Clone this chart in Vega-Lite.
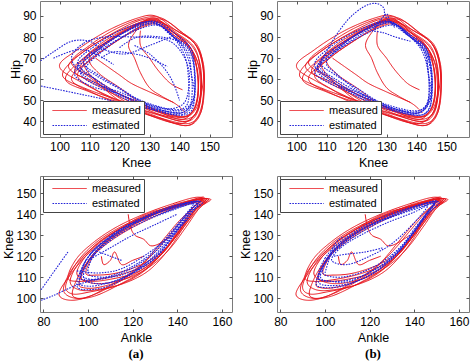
{
"$schema": "https://vega.github.io/schema/vega-lite/v6.json",
"padding": {"left": 2, "top": 0, "right": 2, "bottom": 1},
"datasets": {
"hkM": [
{"s":"m","c":1,"x":103,"y":66},{"s":"m","c":1,"x":109,"y":74},{"s":"m","c":1,"x":118,"y":82},{"s":"m","c":1,"x":127,"y":88},{"s":"m","c":1,"x":133,"y":88},{"s":"m","c":1,"x":139,"y":82},{"s":"m","c":1,"x":145,"y":75},{"s":"m","c":1,"x":147,"y":64},{"s":"m","c":1,"x":147,"y":52},{"s":"m","c":1,"x":145,"y":43},{"s":"m","c":1,"x":141,"y":40},{"s":"m","c":1,"x":132,"y":44},{"s":"m","c":1,"x":121,"y":51},{"s":"m","c":1,"x":110,"y":59},
{"s":"m","c":2,"x":100,"y":66},{"s":"m","c":2,"x":106,"y":74},{"s":"m","c":2,"x":116,"y":83},{"s":"m","c":2,"x":126,"y":89},{"s":"m","c":2,"x":132,"y":90},{"s":"m","c":2,"x":138,"y":84},{"s":"m","c":2,"x":145,"y":77},{"s":"m","c":2,"x":148,"y":65},{"s":"m","c":2,"x":148,"y":52},{"s":"m","c":2,"x":146,"y":42},{"s":"m","c":2,"x":142,"y":38},{"s":"m","c":2,"x":133,"y":42},{"s":"m","c":2,"x":121,"y":49},{"s":"m","c":2,"x":108,"y":58},
{"s":"m","c":3,"x":105,"y":64},{"s":"m","c":3,"x":111,"y":73},{"s":"m","c":3,"x":120,"y":81},{"s":"m","c":3,"x":128,"y":87},{"s":"m","c":3,"x":133,"y":87},{"s":"m","c":3,"x":138,"y":81},{"s":"m","c":3,"x":143,"y":75},{"s":"m","c":3,"x":146,"y":64},{"s":"m","c":3,"x":146,"y":52},{"s":"m","c":3,"x":144,"y":44},{"s":"m","c":3,"x":140,"y":41},{"s":"m","c":3,"x":131,"y":46},{"s":"m","c":3,"x":120,"y":53},{"s":"m","c":3,"x":111,"y":59},
{"s":"m","c":4,"x":101,"y":62},{"s":"m","c":4,"x":107,"y":72},{"s":"m","c":4,"x":117,"y":81},{"s":"m","c":4,"x":127,"y":87},{"s":"m","c":4,"x":132,"y":89},{"s":"m","c":4,"x":137,"y":83},{"s":"m","c":4,"x":144,"y":76},{"s":"m","c":4,"x":147,"y":66},{"s":"m","c":4,"x":147,"y":53},{"s":"m","c":4,"x":145,"y":45},{"s":"m","c":4,"x":141,"y":42},{"s":"m","c":4,"x":132,"y":45},{"s":"m","c":4,"x":120,"y":50},{"s":"m","c":4,"x":108,"y":56},
{"s":"m","c":5,"x":104,"y":68},{"s":"m","c":5,"x":110,"y":76},{"s":"m","c":5,"x":119,"y":84},{"s":"m","c":5,"x":128,"y":89},{"s":"m","c":5,"x":134,"y":89},{"s":"m","c":5,"x":140,"y":83},{"s":"m","c":5,"x":146,"y":76},{"s":"m","c":5,"x":148,"y":64},{"s":"m","c":5,"x":147,"y":51},{"s":"m","c":5,"x":145,"y":43},{"s":"m","c":5,"x":140,"y":39},{"s":"m","c":5,"x":130,"y":43},{"s":"m","c":5,"x":119,"y":52},{"s":"m","c":5,"x":110,"y":61},
{"s":"m","c":6,"x":107,"y":66},{"s":"m","c":6,"x":113,"y":74},{"s":"m","c":6,"x":121,"y":82},{"s":"m","c":6,"x":129,"y":87},{"s":"m","c":6,"x":134,"y":87},{"s":"m","c":6,"x":139,"y":81},{"s":"m","c":6,"x":144,"y":74},{"s":"m","c":6,"x":146,"y":63},{"s":"m","c":6,"x":146,"y":51},{"s":"m","c":6,"x":144,"y":44},{"s":"m","c":6,"x":139,"y":42},{"s":"m","c":6,"x":130,"y":46},{"s":"m","c":6,"x":120,"y":53},{"s":"m","c":6,"x":112,"y":60},
{"s":"m","c":7,"x":110,"y":70},{"s":"m","c":7,"x":116,"y":78},{"s":"m","c":7,"x":123,"y":84},{"s":"m","c":7,"x":130,"y":88},{"s":"m","c":7,"x":134,"y":87},{"s":"m","c":7,"x":139,"y":81},{"s":"m","c":7,"x":144,"y":74},{"s":"m","c":7,"x":146,"y":62},{"s":"m","c":7,"x":146,"y":50},{"s":"m","c":7,"x":143,"y":43},{"s":"m","c":7,"x":138,"y":43},{"s":"m","c":7,"x":128,"y":48},{"s":"m","c":7,"x":120,"y":56},{"s":"m","c":7,"x":113,"y":63},
{"s":"m","c":8,"x":102,"y":60},{"s":"m","c":8,"x":108,"y":70},{"s":"m","c":8,"x":117,"y":79},{"s":"m","c":8,"x":126,"y":86},{"s":"m","c":8,"x":131,"y":88},{"s":"m","c":8,"x":136,"y":84},{"s":"m","c":8,"x":142,"y":78},{"s":"m","c":8,"x":146,"y":68},{"s":"m","c":8,"x":147,"y":55},{"s":"m","c":8,"x":146,"y":45},{"s":"m","c":8,"x":142,"y":41},{"s":"m","c":8,"x":134,"y":43},{"s":"m","c":8,"x":122,"y":48},{"s":"m","c":8,"x":110,"y":54},
{"s":"m","c":9,"x":106,"y":62},{"s":"m","c":9,"x":112,"y":71},{"s":"m","c":9,"x":120,"y":79},{"s":"m","c":9,"x":128,"y":85},{"s":"m","c":9,"x":133,"y":86},{"s":"m","c":9,"x":138,"y":81},{"s":"m","c":9,"x":144,"y":74},{"s":"m","c":9,"x":147,"y":63},{"s":"m","c":9,"x":147,"y":50},{"s":"m","c":9,"x":145,"y":42},{"s":"m","c":9,"x":141,"y":40},{"s":"m","c":9,"x":133,"y":43},{"s":"m","c":9,"x":122,"y":48},{"s":"m","c":9,"x":112,"y":55},
{"s":"m","c":10,"x":108,"y":68},{"s":"m","c":10,"x":113,"y":76},{"s":"m","c":10,"x":121,"y":83},{"s":"m","c":10,"x":129,"y":88},{"s":"m","c":10,"x":135,"y":88},{"s":"m","c":10,"x":141,"y":82},{"s":"m","c":10,"x":146,"y":75},{"s":"m","c":10,"x":148,"y":63},{"s":"m","c":10,"x":148,"y":50},{"s":"m","c":10,"x":146,"y":41},{"s":"m","c":10,"x":142,"y":38},{"s":"m","c":10,"x":134,"y":41},{"s":"m","c":10,"x":123,"y":47},{"s":"m","c":10,"x":113,"y":58},
{"s":"m","c":11,"x":104,"y":60},{"s":"m","c":11,"x":110,"y":69},{"s":"m","c":11,"x":119,"y":78},{"s":"m","c":11,"x":127,"y":85},{"s":"m","c":11,"x":133,"y":87},{"s":"m","c":11,"x":139,"y":83},{"s":"m","c":11,"x":145,"y":77},{"s":"m","c":11,"x":148,"y":67},{"s":"m","c":11,"x":148,"y":54},{"s":"m","c":11,"x":147,"y":44},{"s":"m","c":11,"x":143,"y":39},{"s":"m","c":11,"x":135,"y":41},{"s":"m","c":11,"x":124,"y":46},{"s":"m","c":11,"x":112,"y":53}
],
"hkMo": [
{"s":"m","c":1,"x":129,"y":88},{"s":"m","c":1,"x":125,"y":82},{"s":"m","c":1,"x":123,"y":76},{"s":"m","c":1,"x":125,"y":70},{"s":"m","c":1,"x":127,"y":63},{"s":"m","c":1,"x":130,"y":56},{"s":"m","c":1,"x":134,"y":52},{"s":"m","c":1,"x":139,"y":48},{"s":"m","c":1,"x":142,"y":44},
{"s":"m","c":2,"x":112,"y":70},{"s":"m","c":2,"x":116,"y":66},{"s":"m","c":2,"x":120,"y":62},{"s":"m","c":2,"x":124,"y":58},{"s":"m","c":2,"x":130,"y":54},{"s":"m","c":2,"x":138,"y":49},
{"s":"m","c":3,"x":127,"y":83},{"s":"m","c":3,"x":127,"y":76},{"s":"m","c":3,"x":130,"y":70},{"s":"m","c":3,"x":133,"y":64},{"s":"m","c":3,"x":137,"y":58},{"s":"m","c":3,"x":141,"y":55}
],
"hkEa": [
{"s":"e","c":1,"x":106,"y":66},{"s":"e","c":1,"x":112,"y":74},{"s":"e","c":1,"x":120,"y":81},{"s":"e","c":1,"x":128,"y":86},{"s":"e","c":1,"x":133,"y":86},{"s":"e","c":1,"x":138,"y":80},{"s":"e","c":1,"x":143,"y":74},{"s":"e","c":1,"x":145,"y":64},{"s":"e","c":1,"x":145,"y":52},{"s":"e","c":1,"x":144,"y":45},{"s":"e","c":1,"x":140,"y":43},{"s":"e","c":1,"x":131,"y":46},{"s":"e","c":1,"x":121,"y":52},{"s":"e","c":1,"x":112,"y":60},
{"s":"e","c":2,"x":105,"y":63},{"s":"e","c":2,"x":111,"y":72},{"s":"e","c":2,"x":119,"y":80},{"s":"e","c":2,"x":127,"y":86},{"s":"e","c":2,"x":132,"y":87},{"s":"e","c":2,"x":137,"y":81},{"s":"e","c":2,"x":143,"y":75},{"s":"e","c":2,"x":145,"y":65},{"s":"e","c":2,"x":145,"y":53},{"s":"e","c":2,"x":143,"y":46},{"s":"e","c":2,"x":139,"y":44},{"s":"e","c":2,"x":130,"y":47},{"s":"e","c":2,"x":120,"y":53},{"s":"e","c":2,"x":110,"y":57},
{"s":"e","c":3,"x":108,"y":68},{"s":"e","c":3,"x":114,"y":75},{"s":"e","c":3,"x":121,"y":82},{"s":"e","c":3,"x":128,"y":87},{"s":"e","c":3,"x":133,"y":86},{"s":"e","c":3,"x":138,"y":80},{"s":"e","c":3,"x":142,"y":73},{"s":"e","c":3,"x":144,"y":62},{"s":"e","c":3,"x":144,"y":50},{"s":"e","c":3,"x":142,"y":45},{"s":"e","c":3,"x":138,"y":44},{"s":"e","c":3,"x":129,"y":48},{"s":"e","c":3,"x":121,"y":55},{"s":"e","c":3,"x":113,"y":62},
{"s":"e","c":4,"x":107,"y":64},{"s":"e","c":4,"x":113,"y":73},{"s":"e","c":4,"x":121,"y":80},{"s":"e","c":4,"x":129,"y":85},{"s":"e","c":4,"x":134,"y":85},{"s":"e","c":4,"x":139,"y":79},{"s":"e","c":4,"x":143,"y":72},{"s":"e","c":4,"x":144,"y":62},{"s":"e","c":4,"x":145,"y":53},{"s":"e","c":4,"x":143,"y":47},{"s":"e","c":4,"x":139,"y":45},{"s":"e","c":4,"x":130,"y":48},{"s":"e","c":4,"x":120,"y":54},{"s":"e","c":4,"x":111,"y":58},
{"s":"e","c":5,"x":104,"y":70},{"s":"e","c":5,"x":108,"y":77},{"s":"e","c":5,"x":115,"y":80},{"s":"e","c":5,"x":125,"y":80},{"s":"e","c":5,"x":135,"y":79},{"s":"e","c":5,"x":140,"y":74},{"s":"e","c":5,"x":143,"y":65},{"s":"e","c":5,"x":143,"y":55},{"s":"e","c":5,"x":141,"y":48},{"s":"e","c":5,"x":135,"y":46},{"s":"e","c":5,"x":125,"y":50},{"s":"e","c":5,"x":115,"y":56},{"s":"e","c":5,"x":108,"y":62},
{"s":"e","c":6,"x":109,"y":66},{"s":"e","c":6,"x":115,"y":74},{"s":"e","c":6,"x":122,"y":81},{"s":"e","c":6,"x":129,"y":86},{"s":"e","c":6,"x":134,"y":85},{"s":"e","c":6,"x":139,"y":78},{"s":"e","c":6,"x":142,"y":70},{"s":"e","c":6,"x":143,"y":60},{"s":"e","c":6,"x":143,"y":50},{"s":"e","c":6,"x":141,"y":46},{"s":"e","c":6,"x":136,"y":46},{"s":"e","c":6,"x":127,"y":50},{"s":"e","c":6,"x":118,"y":57},{"s":"e","c":6,"x":112,"y":62},
{"s":"e","c":7,"x":106,"y":68},{"s":"e","c":7,"x":112,"y":76},{"s":"e","c":7,"x":120,"y":83},{"s":"e","c":7,"x":128,"y":87},{"s":"e","c":7,"x":133,"y":87},{"s":"e","c":7,"x":139,"y":81},{"s":"e","c":7,"x":144,"y":74},{"s":"e","c":7,"x":145,"y":62},{"s":"e","c":7,"x":145,"y":51},{"s":"e","c":7,"x":143,"y":45},{"s":"e","c":7,"x":139,"y":43},{"s":"e","c":7,"x":130,"y":46},{"s":"e","c":7,"x":120,"y":52},{"s":"e","c":7,"x":111,"y":61}
],
"hkEao": [
{"s":"e","c":1,"x":93,"y":57},{"s":"e","c":1,"x":100,"y":55},{"s":"e","c":1,"x":110,"y":52},{"s":"e","c":1,"x":120,"y":49},{"s":"e","c":1,"x":130,"y":46},{"s":"e","c":1,"x":140,"y":44},
{"s":"e","c":2,"x":93,"y":68},{"s":"e","c":2,"x":98,"y":73},{"s":"e","c":2,"x":104,"y":78},{"s":"e","c":2,"x":110,"y":78},{"s":"e","c":2,"x":115,"y":74},{"s":"e","c":2,"x":122,"y":72},{"s":"e","c":2,"x":130,"y":76},{"s":"e","c":2,"x":137,"y":80},
{"s":"e","c":3,"x":98,"y":70},{"s":"e","c":3,"x":106,"y":74},{"s":"e","c":3,"x":112,"y":72},{"s":"e","c":3,"x":118,"y":67},
{"s":"e","c":4,"x":120,"y":75},{"s":"e","c":4,"x":126,"y":80},{"s":"e","c":4,"x":134,"y":80},{"s":"e","c":4,"x":140,"y":78},
{"s":"e","c":5,"x":125,"y":76},{"s":"e","c":5,"x":130,"y":72},{"s":"e","c":5,"x":135,"y":65},{"s":"e","c":5,"x":138,"y":58},{"s":"e","c":5,"x":140,"y":50},
{"s":"e","c":6,"x":114,"y":70},{"s":"e","c":6,"x":118,"y":73},{"s":"e","c":6,"x":125,"y":72},{"s":"e","c":6,"x":130,"y":70},{"s":"e","c":6,"x":136,"y":66}
],
"hkEb": [
{"s":"e","c":1,"x":107,"y":66},{"s":"e","c":1,"x":112,"y":74},{"s":"e","c":1,"x":120,"y":81},{"s":"e","c":1,"x":128,"y":86},{"s":"e","c":1,"x":133,"y":86},{"s":"e","c":1,"x":138,"y":80},{"s":"e","c":1,"x":143,"y":74},{"s":"e","c":1,"x":145,"y":64},{"s":"e","c":1,"x":145,"y":52},{"s":"e","c":1,"x":144,"y":45},{"s":"e","c":1,"x":140,"y":43},{"s":"e","c":1,"x":131,"y":46},{"s":"e","c":1,"x":121,"y":52},{"s":"e","c":1,"x":112,"y":60},
{"s":"e","c":2,"x":106,"y":64},{"s":"e","c":2,"x":112,"y":72},{"s":"e","c":2,"x":120,"y":80},{"s":"e","c":2,"x":128,"y":86},{"s":"e","c":2,"x":132,"y":87},{"s":"e","c":2,"x":137,"y":81},{"s":"e","c":2,"x":143,"y":75},{"s":"e","c":2,"x":145,"y":65},{"s":"e","c":2,"x":145,"y":53},{"s":"e","c":2,"x":143,"y":46},{"s":"e","c":2,"x":139,"y":44},{"s":"e","c":2,"x":130,"y":47},{"s":"e","c":2,"x":120,"y":53},{"s":"e","c":2,"x":111,"y":58},
{"s":"e","c":3,"x":108,"y":68},{"s":"e","c":3,"x":114,"y":75},{"s":"e","c":3,"x":121,"y":82},{"s":"e","c":3,"x":128,"y":87},{"s":"e","c":3,"x":133,"y":86},{"s":"e","c":3,"x":138,"y":80},{"s":"e","c":3,"x":142,"y":73},{"s":"e","c":3,"x":144,"y":62},{"s":"e","c":3,"x":144,"y":50},{"s":"e","c":3,"x":142,"y":45},{"s":"e","c":3,"x":138,"y":44},{"s":"e","c":3,"x":129,"y":48},{"s":"e","c":3,"x":121,"y":55},{"s":"e","c":3,"x":113,"y":62},
{"s":"e","c":4,"x":107,"y":65},{"s":"e","c":4,"x":113,"y":73},{"s":"e","c":4,"x":121,"y":80},{"s":"e","c":4,"x":129,"y":85},{"s":"e","c":4,"x":134,"y":85},{"s":"e","c":4,"x":139,"y":79},{"s":"e","c":4,"x":143,"y":72},{"s":"e","c":4,"x":144,"y":62},{"s":"e","c":4,"x":145,"y":53},{"s":"e","c":4,"x":143,"y":47},{"s":"e","c":4,"x":139,"y":45},{"s":"e","c":4,"x":130,"y":48},{"s":"e","c":4,"x":120,"y":54},{"s":"e","c":4,"x":111,"y":59},
{"s":"e","c":5,"x":108,"y":66},{"s":"e","c":5,"x":112,"y":78},{"s":"e","c":5,"x":117,"y":88},{"s":"e","c":5,"x":122,"y":94},{"s":"e","c":5,"x":126,"y":96},{"s":"e","c":5,"x":129,"y":94},{"s":"e","c":5,"x":130,"y":89},{"s":"e","c":5,"x":136,"y":82},{"s":"e","c":5,"x":142,"y":75},{"s":"e","c":5,"x":144,"y":63},{"s":"e","c":5,"x":144,"y":51},{"s":"e","c":5,"x":142,"y":45},{"s":"e","c":5,"x":138,"y":44},{"s":"e","c":5,"x":128,"y":48},{"s":"e","c":5,"x":119,"y":55},{"s":"e","c":5,"x":112,"y":61},
{"s":"e","c":6,"x":110,"y":68},{"s":"e","c":6,"x":115,"y":76},{"s":"e","c":6,"x":122,"y":83},{"s":"e","c":6,"x":129,"y":87},{"s":"e","c":6,"x":133,"y":86},{"s":"e","c":6,"x":138,"y":80},{"s":"e","c":6,"x":143,"y":73},{"s":"e","c":6,"x":145,"y":60},{"s":"e","c":6,"x":144,"y":50},{"s":"e","c":6,"x":141,"y":45},{"s":"e","c":6,"x":136,"y":45},{"s":"e","c":6,"x":127,"y":49},{"s":"e","c":6,"x":119,"y":56},{"s":"e","c":6,"x":113,"y":63},
{"s":"e","c":7,"x":106,"y":67},{"s":"e","c":7,"x":111,"y":75},{"s":"e","c":7,"x":119,"y":82},{"s":"e","c":7,"x":127,"y":87},{"s":"e","c":7,"x":132,"y":87},{"s":"e","c":7,"x":138,"y":81},{"s":"e","c":7,"x":143,"y":75},{"s":"e","c":7,"x":145,"y":62},{"s":"e","c":7,"x":145,"y":50},{"s":"e","c":7,"x":143,"y":44},{"s":"e","c":7,"x":139,"y":43},{"s":"e","c":7,"x":130,"y":46},{"s":"e","c":7,"x":120,"y":52},{"s":"e","c":7,"x":111,"y":60}
],
"hkEbo": [
{"s":"e","c":1,"x":126,"y":84},{"s":"e","c":1,"x":128,"y":88},{"s":"e","c":1,"x":130,"y":91},{"s":"e","c":1,"x":131,"y":88},{"s":"e","c":1,"x":133,"y":84},
{"s":"e","c":2,"x":125,"y":83},{"s":"e","c":2,"x":129,"y":82},{"s":"e","c":2,"x":133,"y":80},{"s":"e","c":2,"x":138,"y":78}
],
"akM": [
{"s":"m","c":1,"x":89,"y":104},{"s":"m","c":1,"x":93,"y":114},{"s":"m","c":1,"x":101,"y":123},{"s":"m","c":1,"x":111,"y":131},{"s":"m","c":1,"x":124,"y":138},{"s":"m","c":1,"x":137,"y":143},{"s":"m","c":1,"x":148,"y":147},{"s":"m","c":1,"x":153,"y":147},{"s":"m","c":1,"x":148,"y":143},{"s":"m","c":1,"x":142,"y":135},{"s":"m","c":1,"x":135,"y":124},{"s":"m","c":1,"x":126,"y":114},{"s":"m","c":1,"x":115,"y":107},{"s":"m","c":1,"x":103,"y":101},{"s":"m","c":1,"x":94,"y":100},
{"s":"m","c":2,"x":92,"y":108},{"s":"m","c":2,"x":96,"y":117},{"s":"m","c":2,"x":104,"y":126},{"s":"m","c":2,"x":114,"y":133},{"s":"m","c":2,"x":126,"y":140},{"s":"m","c":2,"x":139,"y":144},{"s":"m","c":2,"x":149,"y":147},{"s":"m","c":2,"x":154,"y":147},{"s":"m","c":2,"x":149,"y":142},{"s":"m","c":2,"x":143,"y":134},{"s":"m","c":2,"x":136,"y":123},{"s":"m","c":2,"x":127,"y":113},{"s":"m","c":2,"x":116,"y":107},{"s":"m","c":2,"x":104,"y":104},{"s":"m","c":2,"x":96,"y":104},
{"s":"m","c":3,"x":87,"y":102},{"s":"m","c":3,"x":92,"y":111},{"s":"m","c":3,"x":100,"y":121},{"s":"m","c":3,"x":110,"y":129},{"s":"m","c":3,"x":122,"y":137},{"s":"m","c":3,"x":136,"y":143},{"s":"m","c":3,"x":147,"y":147},{"s":"m","c":3,"x":152,"y":148},{"s":"m","c":3,"x":148,"y":144},{"s":"m","c":3,"x":141,"y":137},{"s":"m","c":3,"x":133,"y":127},{"s":"m","c":3,"x":124,"y":116},{"s":"m","c":3,"x":113,"y":108},{"s":"m","c":3,"x":101,"y":101},{"s":"m","c":3,"x":92,"y":99},
{"s":"m","c":4,"x":95,"y":112},{"s":"m","c":4,"x":99,"y":120},{"s":"m","c":4,"x":106,"y":127},{"s":"m","c":4,"x":116,"y":134},{"s":"m","c":4,"x":128,"y":140},{"s":"m","c":4,"x":140,"y":145},{"s":"m","c":4,"x":149,"y":147},{"s":"m","c":4,"x":155,"y":147},{"s":"m","c":4,"x":150,"y":143},{"s":"m","c":4,"x":144,"y":134},{"s":"m","c":4,"x":137,"y":124},{"s":"m","c":4,"x":129,"y":116},{"s":"m","c":4,"x":119,"y":110},{"s":"m","c":4,"x":107,"y":107},{"s":"m","c":4,"x":99,"y":108},
{"s":"m","c":5,"x":90,"y":106},{"s":"m","c":5,"x":95,"y":117},{"s":"m","c":5,"x":103,"y":126},{"s":"m","c":5,"x":113,"y":133},{"s":"m","c":5,"x":125,"y":139},{"s":"m","c":5,"x":138,"y":144},{"s":"m","c":5,"x":148,"y":146},{"s":"m","c":5,"x":152,"y":146},{"s":"m","c":5,"x":147,"y":141},{"s":"m","c":5,"x":140,"y":131},{"s":"m","c":5,"x":133,"y":121},{"s":"m","c":5,"x":124,"y":112},{"s":"m","c":5,"x":113,"y":106},{"s":"m","c":5,"x":101,"y":103},{"s":"m","c":5,"x":93,"y":102},
{"s":"m","c":6,"x":97,"y":110},{"s":"m","c":6,"x":101,"y":119},{"s":"m","c":6,"x":108,"y":127},{"s":"m","c":6,"x":118,"y":134},{"s":"m","c":6,"x":130,"y":140},{"s":"m","c":6,"x":141,"y":144},{"s":"m","c":6,"x":150,"y":146},{"s":"m","c":6,"x":153,"y":146},{"s":"m","c":6,"x":148,"y":142},{"s":"m","c":6,"x":143,"y":135},{"s":"m","c":6,"x":137,"y":126},{"s":"m","c":6,"x":130,"y":118},{"s":"m","c":6,"x":121,"y":112},{"s":"m","c":6,"x":110,"y":109},{"s":"m","c":6,"x":101,"y":108},
{"s":"m","c":7,"x":93,"y":103},{"s":"m","c":7,"x":97,"y":113},{"s":"m","c":7,"x":104,"y":122},{"s":"m","c":7,"x":114,"y":130},{"s":"m","c":7,"x":126,"y":137},{"s":"m","c":7,"x":139,"y":143},{"s":"m","c":7,"x":149,"y":146},{"s":"m","c":7,"x":151,"y":147},{"s":"m","c":7,"x":146,"y":142},{"s":"m","c":7,"x":138,"y":132},{"s":"m","c":7,"x":130,"y":122},{"s":"m","c":7,"x":121,"y":113},{"s":"m","c":7,"x":111,"y":106},{"s":"m","c":7,"x":101,"y":101},{"s":"m","c":7,"x":95,"y":100},
{"s":"m","c":8,"x":99,"y":112},{"s":"m","c":8,"x":103,"y":121},{"s":"m","c":8,"x":110,"y":128},{"s":"m","c":8,"x":120,"y":135},{"s":"m","c":8,"x":132,"y":141},{"s":"m","c":8,"x":143,"y":145},{"s":"m","c":8,"x":150,"y":147},{"s":"m","c":8,"x":154,"y":147},{"s":"m","c":8,"x":149,"y":143},{"s":"m","c":8,"x":145,"y":137},{"s":"m","c":8,"x":140,"y":130},{"s":"m","c":8,"x":133,"y":122},{"s":"m","c":8,"x":124,"y":116},{"s":"m","c":8,"x":113,"y":112},{"s":"m","c":8,"x":104,"y":111},
{"s":"m","c":9,"x":96,"y":107},{"s":"m","c":9,"x":99,"y":116},{"s":"m","c":9,"x":106,"y":125},{"s":"m","c":9,"x":116,"y":132},{"s":"m","c":9,"x":128,"y":139},{"s":"m","c":9,"x":140,"y":144},{"s":"m","c":9,"x":149,"y":147},{"s":"m","c":9,"x":153,"y":147},{"s":"m","c":9,"x":148,"y":142},{"s":"m","c":9,"x":141,"y":132},{"s":"m","c":9,"x":134,"y":122},{"s":"m","c":9,"x":125,"y":114},{"s":"m","c":9,"x":114,"y":108},{"s":"m","c":9,"x":104,"y":105},{"s":"m","c":9,"x":98,"y":105},
{"s":"m","c":10,"x":91,"y":110},{"s":"m","c":10,"x":95,"y":119},{"s":"m","c":10,"x":103,"y":127},{"s":"m","c":10,"x":113,"y":134},{"s":"m","c":10,"x":125,"y":140},{"s":"m","c":10,"x":138,"y":145},{"s":"m","c":10,"x":148,"y":148},{"s":"m","c":10,"x":152,"y":147},{"s":"m","c":10,"x":147,"y":143},{"s":"m","c":10,"x":142,"y":134},{"s":"m","c":10,"x":136,"y":125},{"s":"m","c":10,"x":128,"y":117},{"s":"m","c":10,"x":117,"y":112},{"s":"m","c":10,"x":105,"y":109},{"s":"m","c":10,"x":95,"y":108}
],
"akMo": [
{"s":"m","c":1,"x":118,"y":140},{"s":"m","c":1,"x":119,"y":134},{"s":"m","c":1,"x":121,"y":130},{"s":"m","c":1,"x":125,"y":128},{"s":"m","c":1,"x":128,"y":125},{"s":"m","c":1,"x":132,"y":126},{"s":"m","c":1,"x":138,"y":130},
{"s":"m","c":2,"x":106,"y":120},{"s":"m","c":2,"x":107,"y":116},{"s":"m","c":2,"x":110,"y":118},{"s":"m","c":2,"x":112,"y":122},{"s":"m","c":2,"x":115,"y":116},{"s":"m","c":2,"x":120,"y":118},{"s":"m","c":2,"x":125,"y":120}
],
"akEa": [
{"s":"e","c":1,"x":96,"y":108},{"s":"e","c":1,"x":99,"y":118},{"s":"e","c":1,"x":106,"y":126},{"s":"e","c":1,"x":115,"y":133},{"s":"e","c":1,"x":127,"y":139},{"s":"e","c":1,"x":139,"y":144},{"s":"e","c":1,"x":148,"y":146},{"s":"e","c":1,"x":150,"y":146},{"s":"e","c":1,"x":146,"y":142},{"s":"e","c":1,"x":140,"y":134},{"s":"e","c":1,"x":133,"y":124},{"s":"e","c":1,"x":124,"y":115},{"s":"e","c":1,"x":114,"y":109},{"s":"e","c":1,"x":104,"y":106},{"s":"e","c":1,"x":98,"y":106},
{"s":"e","c":2,"x":98,"y":110},{"s":"e","c":2,"x":101,"y":119},{"s":"e","c":2,"x":108,"y":127},{"s":"e","c":2,"x":117,"y":134},{"s":"e","c":2,"x":129,"y":140},{"s":"e","c":2,"x":141,"y":144},{"s":"e","c":2,"x":149,"y":146},{"s":"e","c":2,"x":151,"y":145},{"s":"e","c":2,"x":146,"y":141},{"s":"e","c":2,"x":139,"y":131},{"s":"e","c":2,"x":132,"y":121},{"s":"e","c":2,"x":122,"y":113},{"s":"e","c":2,"x":112,"y":108},{"s":"e","c":2,"x":103,"y":107},
{"s":"e","c":3,"x":95,"y":106},{"s":"e","c":3,"x":98,"y":116},{"s":"e","c":3,"x":104,"y":124},{"s":"e","c":3,"x":113,"y":131},{"s":"e","c":3,"x":125,"y":138},{"s":"e","c":3,"x":138,"y":143},{"s":"e","c":3,"x":147,"y":146},{"s":"e","c":3,"x":150,"y":145},{"s":"e","c":3,"x":145,"y":140},{"s":"e","c":3,"x":138,"y":130},{"s":"e","c":3,"x":130,"y":119},{"s":"e","c":3,"x":120,"y":112},{"s":"e","c":3,"x":110,"y":106},{"s":"e","c":3,"x":100,"y":104},
{"s":"e","c":4,"x":100,"y":112},{"s":"e","c":4,"x":103,"y":121},{"s":"e","c":4,"x":110,"y":128},{"s":"e","c":4,"x":120,"y":135},{"s":"e","c":4,"x":132,"y":140},{"s":"e","c":4,"x":143,"y":144},{"s":"e","c":4,"x":149,"y":145},{"s":"e","c":4,"x":146,"y":140},{"s":"e","c":4,"x":140,"y":132},{"s":"e","c":4,"x":133,"y":123},{"s":"e","c":4,"x":125,"y":116},{"s":"e","c":4,"x":115,"y":111},{"s":"e","c":4,"x":106,"y":110},
{"s":"e","c":5,"x":97,"y":109},{"s":"e","c":5,"x":100,"y":117},{"s":"e","c":5,"x":106,"y":124},{"s":"e","c":5,"x":115,"y":131},{"s":"e","c":5,"x":126,"y":137},{"s":"e","c":5,"x":138,"y":142},{"s":"e","c":5,"x":147,"y":145},{"s":"e","c":5,"x":143,"y":139},{"s":"e","c":5,"x":136,"y":130},{"s":"e","c":5,"x":128,"y":121},{"s":"e","c":5,"x":118,"y":114},{"s":"e","c":5,"x":108,"y":110},
{"s":"e","c":6,"x":97,"y":112},{"s":"e","c":6,"x":101,"y":121},{"s":"e","c":6,"x":108,"y":128},{"s":"e","c":6,"x":118,"y":135},{"s":"e","c":6,"x":130,"y":141},{"s":"e","c":6,"x":142,"y":145},{"s":"e","c":6,"x":149,"y":146},{"s":"e","c":6,"x":145,"y":141},{"s":"e","c":6,"x":139,"y":133},{"s":"e","c":6,"x":131,"y":123},{"s":"e","c":6,"x":121,"y":115},{"s":"e","c":6,"x":110,"y":110},{"s":"e","c":6,"x":101,"y":109}
],
"akEao": [
{"s":"e","c":1,"x":79,"y":99},{"s":"e","c":1,"x":84,"y":101},{"s":"e","c":1,"x":90,"y":104},{"s":"e","c":1,"x":97,"y":107},{"s":"e","c":1,"x":105,"y":109},
{"s":"e","c":2,"x":79,"y":104},{"s":"e","c":2,"x":83,"y":110},{"s":"e","c":2,"x":87,"y":116},{"s":"e","c":2,"x":91,"y":122},
{"s":"e","c":3,"x":100,"y":118},{"s":"e","c":3,"x":110,"y":124},{"s":"e","c":3,"x":120,"y":130},{"s":"e","c":3,"x":130,"y":135},{"s":"e","c":3,"x":140,"y":140},
{"s":"e","c":4,"x":95,"y":113},{"s":"e","c":4,"x":105,"y":112},{"s":"e","c":4,"x":115,"y":114},{"s":"e","c":4,"x":125,"y":120},{"s":"e","c":4,"x":135,"y":128},{"s":"e","c":4,"x":145,"y":138},
{"s":"e","c":5,"x":105,"y":122},{"s":"e","c":5,"x":110,"y":120},{"s":"e","c":5,"x":115,"y":118}
],
"akEb": [
{"s":"e","c":1,"x":97,"y":108},{"s":"e","c":1,"x":100,"y":117},{"s":"e","c":1,"x":106,"y":125},{"s":"e","c":1,"x":115,"y":132},{"s":"e","c":1,"x":127,"y":138},{"s":"e","c":1,"x":139,"y":143},{"s":"e","c":1,"x":148,"y":146},{"s":"e","c":1,"x":150,"y":146},{"s":"e","c":1,"x":146,"y":141},{"s":"e","c":1,"x":140,"y":132},{"s":"e","c":1,"x":132,"y":121},{"s":"e","c":1,"x":122,"y":112},{"s":"e","c":1,"x":111,"y":107},{"s":"e","c":1,"x":102,"y":106},
{"s":"e","c":2,"x":98,"y":110},{"s":"e","c":2,"x":101,"y":119},{"s":"e","c":2,"x":107,"y":126},{"s":"e","c":2,"x":117,"y":133},{"s":"e","c":2,"x":129,"y":139},{"s":"e","c":2,"x":141,"y":144},{"s":"e","c":2,"x":149,"y":146},{"s":"e","c":2,"x":151,"y":145},{"s":"e","c":2,"x":146,"y":140},{"s":"e","c":2,"x":139,"y":130},{"s":"e","c":2,"x":131,"y":120},{"s":"e","c":2,"x":121,"y":113},{"s":"e","c":2,"x":111,"y":108},{"s":"e","c":2,"x":103,"y":108},
{"s":"e","c":3,"x":96,"y":107},{"s":"e","c":3,"x":99,"y":115},{"s":"e","c":3,"x":105,"y":123},{"s":"e","c":3,"x":114,"y":130},{"s":"e","c":3,"x":126,"y":137},{"s":"e","c":3,"x":138,"y":142},{"s":"e","c":3,"x":147,"y":145},{"s":"e","c":3,"x":149,"y":145},{"s":"e","c":3,"x":145,"y":140},{"s":"e","c":3,"x":138,"y":129},{"s":"e","c":3,"x":130,"y":119},{"s":"e","c":3,"x":120,"y":111},{"s":"e","c":3,"x":109,"y":106},{"s":"e","c":3,"x":100,"y":105},
{"s":"e","c":4,"x":99,"y":112},{"s":"e","c":4,"x":102,"y":120},{"s":"e","c":4,"x":109,"y":127},{"s":"e","c":4,"x":119,"y":134},{"s":"e","c":4,"x":131,"y":139},{"s":"e","c":4,"x":142,"y":143},{"s":"e","c":4,"x":149,"y":145},{"s":"e","c":4,"x":145,"y":139},{"s":"e","c":4,"x":137,"y":128},{"s":"e","c":4,"x":128,"y":119},{"s":"e","c":4,"x":118,"y":113},{"s":"e","c":4,"x":107,"y":110},
{"s":"e","c":5,"x":103,"y":118},{"s":"e","c":5,"x":107,"y":124},{"s":"e","c":5,"x":116,"y":130},{"s":"e","c":5,"x":128,"y":136},{"s":"e","c":5,"x":140,"y":141},{"s":"e","c":5,"x":146,"y":144},{"s":"e","c":5,"x":140,"y":136},{"s":"e","c":5,"x":130,"y":126},{"s":"e","c":5,"x":120,"y":120},{"s":"e","c":5,"x":110,"y":116},
{"s":"e","c":6,"x":97,"y":110},{"s":"e","c":6,"x":100,"y":119},{"s":"e","c":6,"x":107,"y":127},{"s":"e","c":6,"x":117,"y":134},{"s":"e","c":6,"x":129,"y":140},{"s":"e","c":6,"x":141,"y":144},{"s":"e","c":6,"x":149,"y":146},{"s":"e","c":6,"x":146,"y":141},{"s":"e","c":6,"x":140,"y":133},{"s":"e","c":6,"x":133,"y":123},{"s":"e","c":6,"x":123,"y":114},{"s":"e","c":6,"x":112,"y":109},{"s":"e","c":6,"x":102,"y":108}
],
"akEbo": [
{"s":"e","c":1,"x":104,"y":120},{"s":"e","c":1,"x":110,"y":121},{"s":"e","c":1,"x":118,"y":122},{"s":"e","c":1,"x":126,"y":124},
{"s":"e","c":2,"x":100,"y":112},{"s":"e","c":2,"x":104,"y":125},{"s":"e","c":2,"x":108,"y":129}
]
},
"columns": 2,
"spacing": {"row": 39, "column": 45},
"bounds": "flush",
"concat": [
{
"width": 192, "height": 136,
"layer": [
{"data": {"name": "hkM"},
 "mark": {"type": "line", "interpolate": "cardinal-closed", "strokeWidth": 1, "clip": true},
 "encoding": {
  "x": {"field": "x", "type": "quantitative", "scale": {"domain": [93.5, 157.5], "nice": false, "zero": false}, "axis": {"title": "Knee", "values": [100,110,120,130,140,150]}},
  "y": {"field": "y", "type": "quantitative", "scale": {"domain": [32.6, 97.1], "nice": false, "zero": false}, "axis": {"title": "Hip", "values": [40,50,60,70,80,90]}},
  "color": {"field": "s", "type": "nominal", "scale": {"domain": ["m","e"], "range": ["#e8141c","#2222d8"]}, "legend": {"orient": "bottom-left", "symbolType": "M0,0H6", "labelExpr": "datum.label == 'm' ? 'measured' : 'estimated'"}},
  "strokeDash": {"field": "s", "type": "nominal", "scale": {"domain": ["m","e"], "range": [[1,0],[1.6,1.2]]}, "legend": {"orient": "bottom-left", "symbolType": "M0,0H6", "labelExpr": "datum.label == 'm' ? 'measured' : 'estimated'"}},
  "detail": {"field": "c"},
  "order": {"value": null}}},
{"data": {"name": "hkMo"},
 "mark": {"type": "line", "interpolate": "cardinal", "strokeWidth": 1, "clip": true},
 "encoding": {
  "x": {"field": "x", "type": "quantitative", "axis": {"orient": "top", "labels": false, "title": null, "values": [100,110,120,130,140,150]}},
  "y": {"field": "y", "type": "quantitative", "axis": {"orient": "right", "labels": false, "title": null, "values": [40,50,60,70,80,90]}},
  "color": {"field": "s", "type": "nominal"},
  "strokeDash": {"field": "s", "type": "nominal"},
  "detail": {"field": "c"},
  "order": {"value": null}}},
{"data": {"name": "hkEa"},
 "mark": {"type": "line", "interpolate": "cardinal-closed", "strokeWidth": 1.1, "clip": true},
 "encoding": {
  "x": {"field": "x", "type": "quantitative", "axis": null},
  "y": {"field": "y", "type": "quantitative", "axis": null},
  "color": {"field": "s", "type": "nominal"},
  "strokeDash": {"field": "s", "type": "nominal"},
  "detail": {"field": "c"},
  "order": {"value": null}}},
{"data": {"name": "hkEao"},
 "mark": {"type": "line", "interpolate": "cardinal", "strokeWidth": 1.1, "clip": true},
 "encoding": {
  "x": {"field": "x", "type": "quantitative", "axis": null},
  "y": {"field": "y", "type": "quantitative", "axis": null},
  "color": {"field": "s", "type": "nominal"},
  "strokeDash": {"field": "s", "type": "nominal"},
  "detail": {"field": "c"},
  "order": {"value": null}}}
],
"resolve": {"axis": {"x": "independent", "y": "independent"}}
},
{
"width": 192, "height": 136,
"layer": [
{"data": {"name": "hkM"},
 "mark": {"type": "line", "interpolate": "cardinal-closed", "strokeWidth": 1, "clip": true},
 "encoding": {
  "x": {"field": "x", "type": "quantitative", "scale": {"domain": [93.5, 157.5], "nice": false, "zero": false}, "axis": {"title": "Knee", "values": [100,110,120,130,140,150]}},
  "y": {"field": "y", "type": "quantitative", "scale": {"domain": [32.6, 97.1], "nice": false, "zero": false}, "axis": {"title": "Hip", "values": [40,50,60,70,80,90]}},
  "color": {"field": "s", "type": "nominal", "scale": {"domain": ["m","e"], "range": ["#e8141c","#2222d8"]}, "legend": {"orient": "bottom-left", "symbolType": "M0,0H6", "labelExpr": "datum.label == 'm' ? 'measured' : 'estimated'"}},
  "strokeDash": {"field": "s", "type": "nominal", "scale": {"domain": ["m","e"], "range": [[1,0],[1.6,1.2]]}, "legend": {"orient": "bottom-left", "symbolType": "M0,0H6", "labelExpr": "datum.label == 'm' ? 'measured' : 'estimated'"}},
  "detail": {"field": "c"},
  "order": {"value": null}}},
{"data": {"name": "hkMo"},
 "mark": {"type": "line", "interpolate": "cardinal", "strokeWidth": 1, "clip": true},
 "encoding": {
  "x": {"field": "x", "type": "quantitative", "axis": {"orient": "top", "labels": false, "title": null, "values": [100,110,120,130,140,150]}},
  "y": {"field": "y", "type": "quantitative", "axis": {"orient": "right", "labels": false, "title": null, "values": [40,50,60,70,80,90]}},
  "color": {"field": "s", "type": "nominal"},
  "strokeDash": {"field": "s", "type": "nominal"},
  "detail": {"field": "c"},
  "order": {"value": null}}},
{"data": {"name": "hkEb"},
 "mark": {"type": "line", "interpolate": "cardinal-closed", "strokeWidth": 1.1, "clip": true},
 "encoding": {
  "x": {"field": "x", "type": "quantitative", "axis": null},
  "y": {"field": "y", "type": "quantitative", "axis": null},
  "color": {"field": "s", "type": "nominal"},
  "strokeDash": {"field": "s", "type": "nominal"},
  "detail": {"field": "c"},
  "order": {"value": null}}},
{"data": {"name": "hkEbo"},
 "mark": {"type": "line", "interpolate": "cardinal", "strokeWidth": 1.1, "clip": true},
 "encoding": {
  "x": {"field": "x", "type": "quantitative", "axis": null},
  "y": {"field": "y", "type": "quantitative", "axis": null},
  "color": {"field": "s", "type": "nominal"},
  "strokeDash": {"field": "s", "type": "nominal"},
  "detail": {"field": "c"},
  "order": {"value": null}}}
],
"resolve": {"axis": {"x": "independent", "y": "independent"}}
},
{
"width": 192, "height": 136,
"title": {"text": "(a)", "orient": "bottom", "font": "Liberation Serif", "fontSize": 13, "fontWeight": "bold", "offset": 4},
"layer": [
{"data": {"name": "akM"},
 "mark": {"type": "line", "interpolate": "cardinal-closed", "strokeWidth": 1, "clip": true},
 "encoding": {
  "x": {"field": "x", "type": "quantitative", "scale": {"domain": [78.5, 164.5], "nice": false, "zero": false}, "axis": {"title": "Ankle", "values": [80,100,120,140,160]}},
  "y": {"field": "y", "type": "quantitative", "scale": {"domain": [93.4, 158.2], "nice": false, "zero": false}, "axis": {"title": "Knee", "values": [100,110,120,130,140,150]}},
  "color": {"field": "s", "type": "nominal", "scale": {"domain": ["m","e"], "range": ["#e8141c","#2222d8"]}, "legend": {"orient": "top-left", "symbolType": "M0,0H6", "labelExpr": "datum.label == 'm' ? 'measured' : 'estimated'"}},
  "strokeDash": {"field": "s", "type": "nominal", "scale": {"domain": ["m","e"], "range": [[1,0],[1.6,1.2]]}, "legend": {"orient": "top-left", "symbolType": "M0,0H6", "labelExpr": "datum.label == 'm' ? 'measured' : 'estimated'"}},
  "detail": {"field": "c"},
  "order": {"value": null}}},
{"data": {"name": "akMo"},
 "mark": {"type": "line", "interpolate": "cardinal", "strokeWidth": 1, "clip": true},
 "encoding": {
  "x": {"field": "x", "type": "quantitative", "axis": {"orient": "top", "labels": false, "title": null, "values": [80,100,120,140,160]}},
  "y": {"field": "y", "type": "quantitative", "axis": {"orient": "right", "labels": false, "title": null, "values": [100,110,120,130,140,150]}},
  "color": {"field": "s", "type": "nominal"},
  "strokeDash": {"field": "s", "type": "nominal"},
  "detail": {"field": "c"},
  "order": {"value": null}}},
{"data": {"name": "akEa"},
 "mark": {"type": "line", "interpolate": "cardinal-closed", "strokeWidth": 1.1, "clip": true},
 "encoding": {
  "x": {"field": "x", "type": "quantitative", "axis": null},
  "y": {"field": "y", "type": "quantitative", "axis": null},
  "color": {"field": "s", "type": "nominal"},
  "strokeDash": {"field": "s", "type": "nominal"},
  "detail": {"field": "c"},
  "order": {"value": null}}},
{"data": {"name": "akEao"},
 "mark": {"type": "line", "interpolate": "cardinal", "strokeWidth": 1.1, "clip": true},
 "encoding": {
  "x": {"field": "x", "type": "quantitative", "axis": null},
  "y": {"field": "y", "type": "quantitative", "axis": null},
  "color": {"field": "s", "type": "nominal"},
  "strokeDash": {"field": "s", "type": "nominal"},
  "detail": {"field": "c"},
  "order": {"value": null}}}
],
"resolve": {"axis": {"x": "independent", "y": "independent"}}
},
{
"width": 192, "height": 136,
"title": {"text": "(b)", "orient": "bottom", "font": "Liberation Serif", "fontSize": 13, "fontWeight": "bold", "offset": 4},
"layer": [
{"data": {"name": "akM"},
 "mark": {"type": "line", "interpolate": "cardinal-closed", "strokeWidth": 1, "clip": true},
 "encoding": {
  "x": {"field": "x", "type": "quantitative", "scale": {"domain": [78.5, 164.5], "nice": false, "zero": false}, "axis": {"title": "Ankle", "values": [80,100,120,140,160]}},
  "y": {"field": "y", "type": "quantitative", "scale": {"domain": [93.4, 158.2], "nice": false, "zero": false}, "axis": {"title": "Knee", "values": [100,110,120,130,140,150]}},
  "color": {"field": "s", "type": "nominal", "scale": {"domain": ["m","e"], "range": ["#e8141c","#2222d8"]}, "legend": {"orient": "top-left", "symbolType": "M0,0H6", "labelExpr": "datum.label == 'm' ? 'measured' : 'estimated'"}},
  "strokeDash": {"field": "s", "type": "nominal", "scale": {"domain": ["m","e"], "range": [[1,0],[1.6,1.2]]}, "legend": {"orient": "top-left", "symbolType": "M0,0H6", "labelExpr": "datum.label == 'm' ? 'measured' : 'estimated'"}},
  "detail": {"field": "c"},
  "order": {"value": null}}},
{"data": {"name": "akMo"},
 "mark": {"type": "line", "interpolate": "cardinal", "strokeWidth": 1, "clip": true},
 "encoding": {
  "x": {"field": "x", "type": "quantitative", "axis": {"orient": "top", "labels": false, "title": null, "values": [80,100,120,140,160]}},
  "y": {"field": "y", "type": "quantitative", "axis": {"orient": "right", "labels": false, "title": null, "values": [100,110,120,130,140,150]}},
  "color": {"field": "s", "type": "nominal"},
  "strokeDash": {"field": "s", "type": "nominal"},
  "detail": {"field": "c"},
  "order": {"value": null}}},
{"data": {"name": "akEb"},
 "mark": {"type": "line", "interpolate": "cardinal-closed", "strokeWidth": 1.1, "clip": true},
 "encoding": {
  "x": {"field": "x", "type": "quantitative", "axis": null},
  "y": {"field": "y", "type": "quantitative", "axis": null},
  "color": {"field": "s", "type": "nominal"},
  "strokeDash": {"field": "s", "type": "nominal"},
  "detail": {"field": "c"},
  "order": {"value": null}}},
{"data": {"name": "akEbo"},
 "mark": {"type": "line", "interpolate": "cardinal", "strokeWidth": 1.1, "clip": true},
 "encoding": {
  "x": {"field": "x", "type": "quantitative", "axis": null},
  "y": {"field": "y", "type": "quantitative", "axis": null},
  "color": {"field": "s", "type": "nominal"},
  "strokeDash": {"field": "s", "type": "nominal"},
  "detail": {"field": "c"},
  "order": {"value": null}}}
],
"resolve": {"axis": {"x": "independent", "y": "independent"}}
}
],
"resolve": {"legend": {"color": "independent", "strokeDash": "independent"}},
"config": {
 "font": "Liberation Sans",
 "background": "white",
 "view": {"stroke": "#7a7a7a", "strokeWidth": 1},
 "axis": {"domain": false, "grid": false, "ticks": true, "tickColor": "#555", "tickSize": -3, "labelFontSize": 12, "labelColor": "#000", "labelFont": "Liberation Sans", "labelPadding": 7, "titleFontSize": 12.5, "titleFontWeight": "normal", "titleColor": "#000", "titleFont": "Liberation Sans", "titlePadding": 4, "labelFlush": false, "labelOverlap": false},
 "axisY": {"titlePadding": 0},
 "legend": {"title": null, "labelFontSize": 11, "labelFont": "Liberation Sans", "labelColor": "#000", "symbolSize": 130, "symbolStrokeWidth": 1, "labelOffset": 33, "padding": 3, "rowPadding": 3, "strokeColor": "#444", "fillColor": "#fff", "offset": 3}
}
}
